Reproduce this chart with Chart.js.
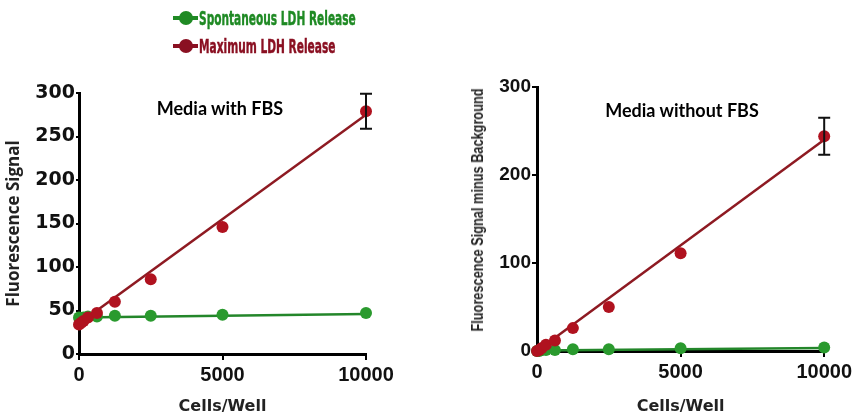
<!DOCTYPE html>
<html>
<head>
<meta charset="utf-8">
<script src="https://cdn.jsdelivr.net/npm/chart.js@4.4.1/dist/chart.umd.min.js"></script>
<style>
  body { margin: 0; background: #fff; }
  #wrap { position: relative; width: 855px; height: 420px; overflow: hidden; }
  .panel { position: absolute; top: 0; height: 420px; }
  .legend { position: absolute; left: 173px; font-family: 'DejaVu Sans', sans-serif; font-weight: bold; font-size: 20px; line-height: 24px; white-space: nowrap; }
  .legend .txt { display: inline-block; transform: scaleX(0.53); transform-origin: 0 50%; -webkit-text-stroke: 0.5px currentColor; }
  .legend .mk { display: inline-block; position: relative; width: 25px; height: 14px; vertical-align: 0px; margin-right: 1px; }
  .legend .mk:before { content: ''; position: absolute; left: 0; right: 0; top: 5px; height: 4px; background: currentColor; }
  .legend .mk:after { content: ''; position: absolute; left: 6px; top: 0; width: 14px; height: 14px; border-radius: 50%; background: currentColor; }
  .ptitle { position: absolute; font-family: Lato, 'Open Sans', sans-serif; font-weight: bold; font-size: 18px; transform: translate(-50%, -50%); white-space: nowrap; }
  .ytitle { position: absolute; font-family: 'Liberation Sans', Arial, sans-serif; font-weight: bold; font-size: 17px; color: #222; white-space: nowrap; transform: translate(-50%, -50%) rotate(-90deg) scaleX(0.75); }
</style>
</head>
<body>
<div id="wrap">
  <div class="panel" style="left:0;width:430px"><canvas id="withFbs"></canvas></div>
  <div class="panel" style="left:430px;width:425px"><canvas id="withoutFbs"></canvas></div>
  <div class="legend" style="top:6px;color:#1f8a24"><span class="mk"></span><span class="txt">Spontaneous LDH Release</span></div>
  <div class="legend" style="top:34px;color:#8a1022"><span class="mk"></span><span class="txt">Maximum LDH Release</span></div>
  <div class="ptitle" style="left:220px;top:108px">Media with FBS</div>
  <div class="ptitle" style="left:682px;top:110px">Media without FBS</div>
  <div class="ytitle" style="left:478px;top:210px">Fluorescence Signal minus Background</div>
</div>
<script>
// cells per well (serial dilution)
const cells = [0, 78, 156, 312, 625, 1250, 2500, 5000, 10000];

// media with FBS
const spontWith = [42, 41, 42, 43, 43, 44, 44, 45, 47];
const maxWith = [34, 36, 38, 42, 47, 60, 86, 146, 279];
const maxWithErr = [0, 0, 0, 0, 0, 0, 0, 0, 20];

// media without FBS (minus background)
const spontWithout = [0, 0, 1, 1, 1, 2, 2, 3, 4];
const maxWithout = [0, 1, 3, 7, 12, 26, 50, 111, 244];
const maxWithoutErr = [0, 0, 0, 0, 0, 0, 0, 0, 21];

// fitted lines (end points)
const fitX = [0, 10000];
const fitSpontWith = [42, 46];
const fitMaxWith = [35, 275];
const fitSpontWithout = [0.5, 3.5];
const fitMaxWithout = [0, 240];

const yTicksWith = [0, 50, 100, 150, 200, 250, 300];
const yTicksWithout = [0, 100, 200, 300];
const xTicks = [0, 5000, 10000];

const GREEN_LINE = '#23862a';
const GREEN_PT = '#2a9a2e';
const RED_LINE = '#8e1a22';
const RED_PT = '#b0121f';

function pts(xs, ys) {
    return xs.map((x, i) => ({ x: x, y: ys[i] }));
}

// error bars drawn through the scales
const errorBars = {
    id: 'errorBars',
    afterDatasetsDraw(chart) {
        const ctx = chart.ctx;
        const xs = chart.scales.x, ys = chart.scales.y;
        chart.data.datasets.forEach(ds => {
            if (!ds.errors) return;
            ds.data.forEach((p, i) => {
                const e = ds.errors[i];
                if (!e) return;
                const px = xs.getPixelForValue(p.x);
                const top = ys.getPixelForValue(p.y + e);
                const bot = ys.getPixelForValue(p.y - e);
                ctx.save();
                ctx.strokeStyle = '#111';
                ctx.lineWidth = 2;
                ctx.beginPath();
                ctx.moveTo(px, top); ctx.lineTo(px, bot);
                ctx.moveTo(px - 6, top); ctx.lineTo(px + 6, top);
                ctx.moveTo(px - 6, bot); ctx.lineTo(px + 6, bot);
                ctx.stroke();
                ctx.restore();
            });
        });
    }
};

function makePanel(id, o) {
    const ctx = document.getElementById(id).getContext('2d');
    return new Chart(ctx, {
        type: 'scatter',
        data: {
            datasets: [
                { data: pts(fitX, o.fitSpont), showLine: true, borderColor: GREEN_LINE, borderWidth: 2.5, pointRadius: 0, order: 4, clip: false },
                { data: pts(fitX, o.fitMax), showLine: true, borderColor: RED_LINE, borderWidth: 2.5, pointRadius: 0, order: 3, clip: false },
                { data: pts(cells, o.spont), showLine: false, backgroundColor: GREEN_PT, borderColor: GREEN_PT, pointRadius: 6, borderWidth: 0, order: 2, clip: false },
                { data: pts(cells, o.max), errors: o.maxErr, showLine: false, backgroundColor: RED_PT, borderColor: RED_PT, pointRadius: 6, borderWidth: 0, order: 1, clip: false }
            ]
        },
        options: {
            responsive: true,
            maintainAspectRatio: false,
            animation: false,
            layout: { padding: o.padding },
            plugins: { legend: { display: false }, tooltip: { enabled: false } },
            scales: {
                x: {
                    type: 'linear', min: 0, max: 10000,
                    afterBuildTicks: s => { s.ticks = xTicks.map(v => ({ value: v })); },
                    afterFit: s => { s.height = o.xHeight; },
                    grid: { drawOnChartArea: false, drawTicks: true, tickLength: 6, color: '#000', lineWidth: 2 },
                    border: { display: true, color: '#000', width: 3 },
                    ticks: { color: '#111', padding: 3, maxRotation: 0, callback: v => String(v), font: { family: "'Liberation Sans', Arial, sans-serif", weight: 'bold', size: 20 } },
                    title: { display: true, text: 'Cells/Well', color: '#222', padding: { top: 2, bottom: 4 }, font: { family: "'DejaVu Sans', sans-serif", weight: 'bold', size: 16 } }
                },
                y: {
                    type: 'linear', min: 0, max: 300,
                    afterBuildTicks: s => { s.ticks = o.yTicks.map(v => ({ value: v })); },
                    afterFit: s => { s.width = o.yWidth; },
                    grid: { drawOnChartArea: false, drawTicks: true, tickLength: o.yTickLen, color: '#000', lineWidth: 2 },
                    border: { display: true, color: '#000', width: 3 },
                    ticks: { color: '#111', padding: 1, callback: v => String(v), font: o.yTickFont },
                    title: { display: o.yTitle !== '', text: o.yTitle, color: '#222', padding: { top: 4, bottom: 0 }, font: o.yTitleFont }
                }
            }
        },
        plugins: [errorBars]
    });
}

makePanel('withFbs', {
    spont: spontWith, max: maxWith, maxErr: maxWithErr,
    fitSpont: fitSpontWith, fitMax: fitMaxWith,
    yTicks: yTicksWith, yTickLen: 3,
    yTitle: 'Fluorescence Signal',
    yTitleFont: { family: "'Open Sans', sans-serif", weight: 'bold', size: 17 },
    yTickFont: { family: "'DejaVu Sans', sans-serif", weight: 'bold', size: 19 },
    padding: { top: 93, right: 64, left: 0, bottom: 0 },
    yWidth: 79, xHeight: 66
});

// y title of this panel is the narrow html label above
makePanel('withoutFbs', {
    spont: spontWithout, max: maxWithout, maxErr: maxWithoutErr,
    fitSpont: fitSpontWithout, fitMax: fitMaxWithout,
    yTicks: yTicksWithout, yTickLen: 5,
    yTitle: '',
    yTitleFont: { size: 15 },
    yTickFont: { family: "'Liberation Sans', Arial, sans-serif", weight: 'bold', size: 19 },
    padding: { top: 87, right: 30, left: 35, bottom: 0 },
    yWidth: 72, xHeight: 69
});
</script>
</body>
</html>
